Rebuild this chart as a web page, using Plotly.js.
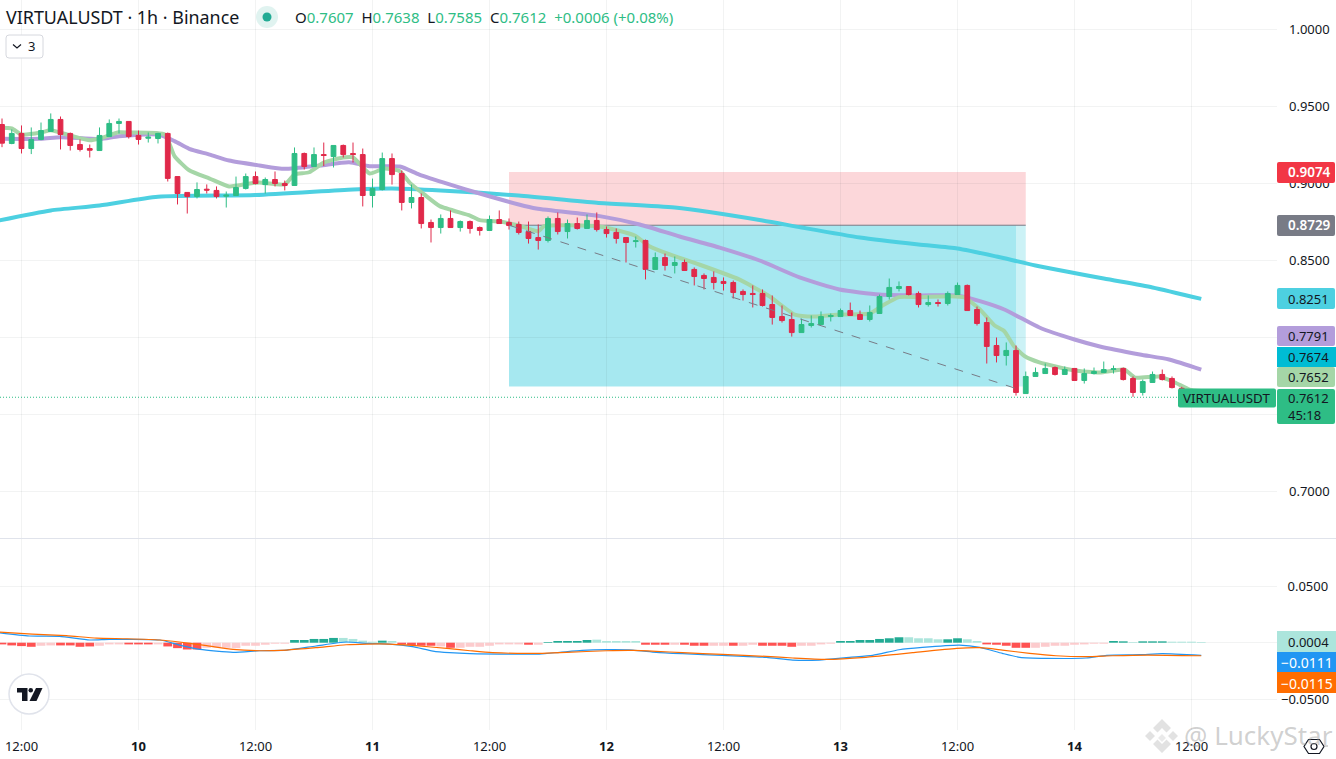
<!DOCTYPE html>
<html>
<head>
<meta charset="utf-8">
<script src="https://cdn.plot.ly/plotly-3.0.1.min.js"></script>
<style>html,body{margin:0;padding:0;background:#fff;overflow:hidden}#chart{width:1336px;height:759px}</style>
</head>
<body>
<div id="chart"></div>
<script>
// Hours relative to the 10th 00:00
const hours = [-14,-13,-12,-11,-10,-9,-8,-7,-6,-5,
 -4,-3,-2,-1,0,1,2,3,4,5,
 6,7,8,9,10,11,12,13,14,15,
 16,17,18,19,20,21,22,23,24,25,
 26,27,28,29,30,31,32,33,34,35,
 36,37,38,39,40,41,42,43,44,45,
 46,47,48,49,50,51,52,53,54,55,
 56,57,58,59,60,61,62,63,64,65,
 66,67,68,69,70,71,72,73,74,75,
 76,77,78,79,80,81,82,83,84,85,
 86,87,88,89,90,91,92,93,94,95,
 96,97,98,99,100,101,102,103,104,105,
 106,107,108,109];
const opens = [.9383,.9260,.9325,.9227,.9286,.9338,.9416,.9325,.9253,.9227,
 .9214,.9305,.9390,.9403,.9312,.9294,.9292,.9325,.9045,.8942,
 .8916,.8963,.8955,.8918,.8922,.8968,.9045,.8993,.9026,.9000,
 .8987,.9195,.9110,.9188,.9175,.9247,.9195,.9188,.8922,.8961,
 .9162,.9065,.8877,.8909,.8747,.8714,.8773,.8714,.8753,.8714,
 .8695,.8766,.8747,.8734,.8688,.8649,.8630,.8773,.8688,.8740,
 .8708,.8760,.8701,.8682,.8649,.8623,.8630,.8442,.8519,.8468,
 .8487,.8442,.8403,.8390,.8364,.8357,.8299,.8286,.8286,.8214,
 .8136,.8117,.8032,.8078,.8084,.8136,.8136,.8175,.8149,.8117,
 .8156,.8266,.8318,.8331,.8286,.8214,.8227,.8221,.8279,.8338,
 .8182,.8097,.7948,.7883,.7916,.7636,.7747,.7766,.7805,.7760,
 .7799,.7721,.7766,.7773,.7792,.7799,.7734,.7643,.7708,.7760,
 .7734,.7670,.7625,.7607];
const highs = [.9422,.9351,.9377,.9364,.9396,.9455,.9435,.9331,.9286,.9253,
 .9364,.9416,.9422,.9403,.9344,.9331,.9329,.9331,.9045,.8942,
 .9007,.8994,.8981,.8948,.9045,.9065,.9078,.9039,.9078,.9019,
 .9234,.9201,.9234,.9266,.9247,.9253,.9266,.9227,.9032,.9201,
 .9195,.9084,.8993,.8935,.8766,.8799,.8825,.8760,.8760,.8721,
 .8792,.8825,.8773,.8753,.8753,.8734,.8786,.8812,.8766,.8779,
 .8799,.8812,.8721,.8708,.8649,.8656,.8636,.8552,.8545,.8526,
 .8506,.8455,.8416,.8429,.8390,.8370,.8312,.8338,.8312,.8273,
 .8208,.8162,.8123,.8143,.8169,.8156,.8188,.8227,.8175,.8208,
 .8279,.8383,.8364,.8331,.8299,.8273,.8247,.8299,.8357,.8344,
 .8201,.8130,.8000,.7968,.7948,.7779,.7805,.7831,.7812,.7812,
 .7799,.7799,.7805,.7844,.7818,.7805,.7747,.7727,.7779,.7792,
 .7747,.7680,.7640,.7638];
const lows = [.9236,.9255,.9195,.9191,.9281,.9336,.9221,.9214,.9208,.9169,
 .9214,.9305,.9325,.9292,.9253,.9266,.9260,.9013,.8864,.8805,
 .8903,.8935,.8903,.8844,.8922,.8961,.8994,.8935,.8981,.8955,
 .8987,.9091,.9108,.9113,.9104,.9169,.9136,.8851,.8844,.8955,
 .8993,.8825,.8838,.8708,.8617,.8675,.8714,.8688,.8675,.8662,
 .8695,.8740,.8701,.8669,.8610,.8571,.8617,.8669,.8643,.8701,
 .8708,.8688,.8649,.8610,.8487,.8584,.8377,.8442,.8435,.8416,
 .8435,.8338,.8312,.8312,.8305,.8253,.8240,.8195,.8201,.8084,
 .8097,.8006,.8032,.8065,.8084,.8104,.8136,.8143,.8117,.8104,
 .8156,.8247,.8299,.8273,.8195,.8201,.8201,.8208,.8279,.8175,
 .8078,.7831,.7838,.7818,.7623,.7636,.7747,.7766,.7753,.7760,
 .7721,.7701,.7760,.7773,.7766,.7721,.7615,.7623,.7708,.7721,
 .7669,.7600,.7590,.7585];
const closes = [.9262,.9325,.9227,.9286,.9344,.9416,.9318,.9247,.9221,.9216,
 .9312,.9390,.9403,.9305,.9286,.9301,.9325,.9033,.8935,.8916,
 .8961,.8957,.8916,.8924,.8974,.9045,.9000,.9026,.9000,.8987,
 .9195,.9110,.9188,.9182,.9247,.9188,.9188,.8922,.8968,.9162,
 .9058,.8877,.8909,.8740,.8714,.8773,.8714,.8753,.8708,.8695,
 .8766,.8740,.8727,.8682,.8643,.8630,.8773,.8688,.8740,.8708,
 .8760,.8701,.8675,.8643,.8617,.8628,.8442,.8519,.8468,.8487,
 .8435,.8396,.8383,.8357,.8351,.8292,.8279,.8279,.8208,.8130,
 .8110,.8032,.8084,.8091,.8136,.8143,.8175,.8143,.8117,.8162,
 .8266,.8325,.8331,.8279,.8214,.8227,.8221,.8286,.8338,.8175,
 .8091,.7942,.7883,.7916,.7643,.7747,.7773,.7799,.7760,.7792,
 .7721,.7766,.7779,.7792,.7797,.7727,.7643,.7714,.7760,.7727,
 .7675,.7625,.7606,.7612];

// Moving averages
const slowHours = [-14.3,-9,-4,2,12,22,26,31,39,47,55,64,68,74,80,84,88,92,99,104,109];
const slowValues = [.8760,.8825,.8857,.8914,.8925,.8961,.8968,.8955,.8922,.8875,.8844,.8760,.8714,.8649,.8604,.8578,.8526,.8468,.8383,.8325,.8251];
const midHours = [-14.3,-10,-8,-4,-2,2,3.7,5.2,7.3,9.3,12.4,15,18.6,21.6,23.7,26.8,28.8,31.9,35,39,40.8,45.2,47.3,51.4,55.5,59.6,63.7,67.8,71.9,76,80,84,86.3,88.8,90.4,92.4,96,98.6,102.7,105.7,109];
const midValues = [.9290,.9290,.9301,.9289,.9307,.9318,.9275,.9225,.9188,.9149,.9117,.9095,.9117,.9138,.9112,.9110,.9058,.8994,.8935,.8864,.8838,.8805,.8788,.8734,.8656,.8584,.8500,.8390,.8312,.8279,.8273,.8273,.8236,.8182,.8130,.8065,.7987,.7942,.7890,.7857,.7791];
const fastHours = [-14.3,-13,-12,-10,-9,-7,-5,-4,-2,-1,2.7,3.7,5.2,7.3,9.3,11.4,12.4,15,16,17.5,19,21,22,23.7,25.2,26.8,27.8,29.3,30.9,34,35,37,39,41,41.6,47.3,50.9,52.4,54.5,57.5,61.6,64.7,67.3,69.3,71.9,75,76.5,78,80,83.2,84.7,86.3,87.8,88.8,89.8,90.9,92.4,96,98.6,101.1,102.2,104.7,106.3,107.8,109];
const fastValues = [.9362,.9357,.9318,.9331,.9346,.9312,.9281,.9292,.9333,.9331,.9318,.9177,.9086,.9032,.8981,.9000,.9006,.8994,.9058,.9073,.9136,.9169,.9169,.9065,.9097,.9080,.9006,.8929,.8853,.8792,.8762,.8753,.8727,.8690,.8723,.8721,.8662,.8593,.8539,.8474,.8377,.8268,.8149,.8136,.8149,.8156,.8214,.8262,.8262,.8268,.8260,.8182,.8078,.8041,.7943,.7878,.7838,.7786,.7773,.7792,.7740,.7747,.7708,.7662,.7652];

// MACD pane
const histValues = [-.0015,-.0024,-.003,-.0036,-.0027,-.0024,-.0024,-.0024,-.0036,-.0033,
 -.0027,-.0015,-.0015,-.0015,-.0015,-.0015,-.0015,-.0033,-.0048,-.006,
 -.006,-.0045,-.0042,-.0045,-.0048,-.0027,-.0027,-.0018,-.0009,-.0009,
 .0024,.0024,.0033,.0033,.0042,.0042,.0033,.0018,.0009,.0018,
 .0015,-.0015,-.0021,-.0027,-.0027,-.0033,-.0045,-.0045,-.0036,-.0036,
 -.0027,-.0015,-.0015,-.0015,-.0018,-.0018,.0006,.0015,.0015,.0015,
 .0024,.0027,.0015,.0015,.0015,.0015,-.0018,-.0018,-.0018,-.0018,
 -.0018,-.0027,-.0027,-.0027,-.0027,-.0027,-.0027,-.0018,-.0027,-.0027,
 -.0027,-.0036,-.0027,-.0027,-.0015,-.0009,.0015,.0015,.0024,.0024,
 .0033,.0039,.0048,.0048,.0039,.0039,.003,.003,.0039,.003,
 .0015,-.0015,-.0018,-.0027,-.0045,-.0045,-.0045,-.0036,-.0027,-.0027,
 -.0018,-.0015,-.0009,-.0009,.0015,.0012,.0006,.0012,.0012,.0012,
 .0009,.0009,.0009,.0006];
const histShades = "SSSSLLSSSS"+"LLLSSSLSSS"+"SLLLLLLLLL"+"GGGGGggggG"+"gSSSSLSLLL"+"LLLLSLGGGG"+"GgggggSSSL"+"SSSLLSLLSS"+"SSLLLLGGGG"+"GGGggggGGg"+"gSSSSSLLLL"+"LLLLGGgGGG"+"gggg";
const macdHours = [-14.3,-11.2,-8.1,-5,-3,2.2,4.2,6.3,9.7,12.4,15.2,18.2,21.3,23.4,25.7,28.1,30.2,31.9,34,37,41.1,43.2,45.5,48,50.7,53.1,55.8,59.9,64.4,67.1,69.8,72.9,75.3,78,80.4,84.2,86.3,88.6,90.4,93.1,97.2,99.3,102.7,105,109];
const macdValues = [.0088,.0059,.0056,.0024,.0029,.0024,-.0021,-.0059,-.0085,-.0071,-.0065,-.0029,.0006,-.0006,-.0012,-.0035,-.0074,-.0088,-.0097,-.0100,-.0100,-.0085,-.0068,-.0062,-.0065,-.0085,-.0097,-.0112,-.0129,-.0153,-.0153,-.0129,-.0112,-.0062,-.0041,-.0021,-.0041,-.0094,-.0129,-.0138,-.0135,-.0112,-.0106,-.0097,-.0111];
const signalHours = [-14.3,-10.9,-7.4,-4.3,-1.2,2.2,4.2,7,9.7,12.4,15.2,18.2,21.3,23.4,25.7,28.1,31.9,34,36.3,41.1,43.9,48,50.7,53.1,55.8,59.9,64.4,67.1,70.5,74.6,78,79.4,83.9,86.3,88.6,91.4,94.1,97.2,99.9,103.4,109];
const signalValues = [.0094,.0076,.0062,.0041,.0035,.0024,.0006,-.0026,-.0059,-.0071,-.0065,-.0044,-.0018,-.0012,-.0012,-.0024,-.0053,-.0071,-.0088,-.0094,-.0085,-.0071,-.0068,-.0076,-.0088,-.0103,-.0121,-.0135,-.0147,-.0129,-.0100,-.0088,-.0050,-.0044,-.0065,-.0094,-.0115,-.0123,-.0115,-.0109,-.0115];

// Axes
const timeTicks = [-12,0,12,24,36,48,60,72,84,96,108];
const timeLabels = ['12:00','<b>10</b>','12:00','<b>11</b>','12:00','<b>12</b>','12:00','<b>13</b>','12:00','<b>14</b>','12:00'];
const priceTicks = [1,.95,.9,.85,.8,.75,.7];
const priceTickLabels = ['1.0000','0.9500','0.9000','0.8500','','','0.7000'];
const macdTicks = [.05,0,-.05];
const macdTickLabels = ['\u20020.0500','','\u22120.0500'];

// Position tool and current price
const entryPrice = .8729, stopPrice = .9074, targetPrice = .7682, toolStart = 38, toolEnd = 91, toolInner = 90;
const arrowEndPrice = .7669, lastPrice = .7612;

// Text
const FONT = '"Noto Sans", "Liberation Sans", sans-serif';
const INK = '#131722', UP = '#2ebd85', DOWN = '#e0294a', GRID = 'rgba(42,46,57,0.06)';

const W = 1277, H = 730;
const X = p => p / W, Y = p => 1 - p / H;
const mapPath = s => s.replace(/(-?[\d.]+),(-?[\d.]+)/g, (m, a, b) => X(+a) + ',' + Y(+b));
const pathShape = (d, o) => Object.assign({type:'path', xref:'paper', yref:'paper', path: mapPath(d), layer:'above', line:{width:0}}, o);
const rectShape = (x0, y0, x1, y1, color, o) => Object.assign({type:'rect', xref:'paper', yref:'paper', x0:X(x0), x1:X(x1), y0:Y(y1), y1:Y(y0), fillcolor:color, line:{width:0}, layer:'above'}, o);
const roundRect = (x0, y0, x1, y1, r) => `M${x0+r},${y0} L${x1-r},${y0} Q${x1},${y0} ${x1},${y0+r} L${x1},${y1-r} Q${x1},${y1} ${x1-r},${y1} L${x0+r},${y1} Q${x0},${y1} ${x0},${y1-r} L${x0},${y0+r} Q${x0},${y0} ${x0+r},${y0} Z`;
const label = (px, py, text, color, size, o) => Object.assign({xref:'paper', yref:'paper', x:X(px), y:Y(py), text, showarrow:false, xanchor:'left', yanchor:'middle', borderpad:0, borderwidth:0, font:{family:FONT, size:size||13, color:color||INK}}, o);

const histColors = {S:'#ff5252', L:'#fccbcd', G:'#22ab94', g:'#ace5dc'};

const traces = [
 {type:'scatter', mode:'lines', x:slowHours, y:slowValues, xaxis:'x', yaxis:'y', line:{color:'#4dd0e1', width:4, shape:'spline', smoothing:.6}},
 {type:'scatter', mode:'lines', x:midHours, y:midValues, xaxis:'x', yaxis:'y', line:{color:'#b39ddb', width:4, shape:'spline', smoothing:.6}},
 {type:'scatter', mode:'lines', x:fastHours, y:fastValues, xaxis:'x', yaxis:'y', line:{color:'#a5d6a7', width:4, shape:'spline', smoothing:.5}},
 {type:'candlestick', x:hours, open:opens, high:highs, low:lows, close:closes, xaxis:'x3', yaxis:'y3', whiskerwidth:0,
  increasing:{line:{color:UP, width:1}, fillcolor:UP}, decreasing:{line:{color:DOWN, width:1}, fillcolor:DOWN}},
 {type:'bar', x:hours, y:histValues, xaxis:'x2', yaxis:'y2', width:.9, marker:{color:histShades.split('').map(k => histColors[k]), line:{width:0}}},
 {type:'scatter', mode:'lines', x:macdHours, y:macdValues, xaxis:'x2', yaxis:'y2', line:{color:'#2196f3', width:1.2, shape:'spline', smoothing:.6}},
 {type:'scatter', mode:'lines', x:signalHours, y:signalValues, xaxis:'x2', yaxis:'y2', line:{color:'#ff6d00', width:1.2, shape:'spline', smoothing:.6}}
];

const xRange = [(0-138.5)/9.75, (1277-138.5)/9.75];
const pHi = 1 + 29.5/1540, pLo = 1 - 508.5/1540;
const tool = (x0, x1, y0, y1, fill) => ({type:'rect', xref:'x', yref:'y', x0, x1, y0, y1, fillcolor:fill, line:{width:0}, layer:'below'});

const shapes = [
 tool(toolStart, toolEnd, entryPrice, stopPrice, 'rgba(242,54,69,0.2)'),
 tool(toolStart, toolInner, targetPrice, entryPrice, 'rgba(0,188,212,0.35)'),
 tool(toolInner, toolEnd, targetPrice, entryPrice, 'rgba(0,188,212,0.2)'),
 {type:'line', xref:'x', yref:'y', x0:toolStart, x1:toolEnd, y0:entryPrice, y1:entryPrice, line:{color:'#787b86', width:1}, layer:'below'},
 {type:'line', xref:'x', yref:'y', x0:toolStart, x1:toolInner, y0:entryPrice, y1:arrowEndPrice, line:{color:'#787b86', width:1, dash:'dash'}, layer:'above'},
 {type:'line', xref:'x', yref:'y', x0:xRange[0], x1:xRange[1], y0:lastPrice, y1:lastPrice, line:{color:UP, width:1, dash:'1px,2px'}, layer:'below'},
 // pane separator
 {type:'line', xref:'paper', yref:'paper', x0:0, x1:1336/W, y0:Y(538.5), y1:Y(538.5), line:{color:'#e0e3eb', width:1}, layer:'above'},
 // price scale tags
 pathShape(roundRect(1277,162,1335,183,2), {fillcolor:'#f23645'}),
 pathShape(roundRect(1277,215,1335,236,2), {fillcolor:'#787b86'}),
 pathShape(roundRect(1277,288,1335,309,2), {fillcolor:'#4dd0e1'}),
 pathShape(roundRect(1277,326,1335,346,2), {fillcolor:'#b39ddb'}),
 rectShape(1277,347,1336,367,'#00bcd4'),
 pathShape(roundRect(1277,367,1335,387,2), {fillcolor:'#a5d6a7'}),
 pathShape(roundRect(1277,389,1335,424,2), {fillcolor:UP}),
 pathShape(roundRect(1178,388.5,1276,407.5,2), {fillcolor:UP}),
 rectShape(1277,631,1336,652,'#ace5dc'),
 rectShape(1277,652,1336,672,'#2196f3'),
 rectShape(1277,672,1336,693,'#ff6d00'),
 // header pieces
 {type:'circle', xref:'paper', yref:'paper', x0:X(256), x1:X(278), y0:Y(28), y1:Y(6), fillcolor:'rgba(34,171,148,0.14)', line:{width:0}, layer:'above'},
 {type:'circle', xref:'paper', yref:'paper', x0:X(262.5), x1:X(271.5), y0:Y(21.5), y1:Y(12.5), fillcolor:'#22ab94', line:{width:0}, layer:'above'},
 pathShape(roundRect(6,35,43,58,3), {fillcolor:'#ffffff', line:{color:'#d6d8de', width:1}}),
 pathShape('M13,44.5 L17,48 L21,44.5', {line:{color:INK, width:1.2}}),
 // logo
 {type:'circle', xref:'paper', yref:'paper', x0:X(9), x1:X(49), y0:Y(714), y1:Y(674), fillcolor:'#ffffff', line:{color:'#e0e3eb', width:1.5}, layer:'above'},
 pathShape('M17,688 L27.5,688 L27.5,701 L22,701 L22,692.5 L17,692.5 Z', {fillcolor:'#131722'}),
 pathShape('M36,688 L42.5,688 L36.5,701 L29.5,701 Z', {fillcolor:'#131722'}),
 {type:'circle', xref:'paper', yref:'paper', x0:X(28.5), x1:X(33), y0:Y(692.5), y1:Y(688), fillcolor:'#131722', line:{width:0}, layer:'above'},
 // watermark mark
 pathShape('M1162,719 L1171,728 L1166.5,732.5 L1162,728 L1157.5,732.5 L1153,728 Z', {fillcolor:'rgba(150,150,150,0.28)'}),
 pathShape('M1150,731 L1155,736 L1150,741 L1145,736 Z', {fillcolor:'rgba(150,150,150,0.28)'}),
 pathShape('M1173,731 L1178,736 L1173,741 L1168,736 Z', {fillcolor:'rgba(150,150,150,0.28)'}),
 pathShape('M1162,734 L1166,738 L1162,742 L1158,738 Z', {fillcolor:'rgba(150,150,150,0.2)'}),
 pathShape('M1153,744 L1157.5,739.5 L1162,744 L1166.5,739.5 L1171,744 L1162,753 Z', {fillcolor:'rgba(150,150,150,0.28)'}),
 // settings hexagon
 pathShape('M1308.5,739.5 L1319.5,739.5 L1324,746.5 L1319.5,753.5 L1308.5,753.5 L1304,746.5 Z', {line:{color:INK, width:1.2}}),
 {type:'circle', xref:'paper', yref:'paper', x0:X(1311), x1:X(1317), y0:Y(749.5), y1:Y(743.5), line:{color:INK, width:1.2}, layer:'above'},
 {type:'line', xref:'paper', yref:'paper', x0:X(1324), x1:X(1328), y0:Y(746), y1:Y(746), line:{color:'#aaaaaa', width:1}, layer:'above'}
];

const O = c => `<span style="color:${INK}">${c}</span>`;
const GAP = '\u00a0\u00a0';
const annotations = [
 label(6, 17, 'VIRTUALUSDT · 1h · Binance', INK, 17.9),
 label(295, 17, `${O('O')}0.7607${GAP}${O('H')}0.7638${GAP}${O('L')}0.7585${GAP}${O('C')}0.7612${GAP}+0.0006 (+0.08%)`, UP, 15),
 label(28, 46.5, '3', INK, 13),
 label(1184, 735, '@ LuckyStar', 'rgba(150,150,150,0.45)', 26),
 label(1288, 172.5, '0.9074', '#ffffff', 13, {font:{family:FONT,size:13.5,color:'#fff',weight:600}}),
 label(1288, 225.5, '0.8729', '#ffffff', 13, {font:{family:FONT,size:13.5,color:'#fff',weight:600}}),
 label(1288, 298.5, '0.8251'),
 label(1288, 336, '0.7791'),
 label(1288, 357, '0.7674'),
 label(1288, 377, '0.7652'),
 label(1288, 398, '0.7612'),
 label(1288, 415, '45:18'),
 label(1183, 398, 'VIRTUALUSDT', INK, 13.3),
 label(1288, 642, '0.0004'),
 label(1281, 662, '\u22120.0111', '#ffffff', 14),
 label(1281, 683, '\u22120.0115', '#ffffff', 14)
];

const baseX = {range:xRange, tickmode:'array', tickvals:timeTicks, showgrid:true, gridcolor:GRID, gridwidth:1, zeroline:false, showline:false, ticks:'', fixedrange:true};
const layout = {
 width:1336, height:759, margin:{l:0, r:59, t:0, b:29, pad:0}, paper_bgcolor:'#fff', plot_bgcolor:'#fff',
 showlegend:false, hovermode:false, bargap:.08,
 font:{family:FONT, size:13, color:INK},
 xaxis:Object.assign({}, baseX, {domain:[0,1], anchor:'y', showticklabels:false, rangeslider:{visible:false}}),
 xaxis2:Object.assign({}, baseX, {domain:[0,1], anchor:'y2', ticktext:timeLabels, showticklabels:true, ticklabelstandoff:7, tickfont:{family:FONT, size:13, color:INK}}),
 xaxis3:{overlaying:'x', matches:'x', visible:false, rangeslider:{visible:false}},
 yaxis:{domain:[1-538/730,1], range:[pLo,pHi], side:'right', anchor:'x', tickmode:'array', tickvals:priceTicks, ticktext:priceTickLabels, showgrid:true, gridcolor:GRID, zeroline:false, ticks:'', ticklabelstandoff:11, tickfont:{family:FONT, size:13, color:INK}, fixedrange:true},
 yaxis2:{domain:[0,1-539/730], range:[-(730-642.7)/1133,(642.7-539)/1133], side:'right', anchor:'x2', tickmode:'array', tickvals:macdTicks, ticktext:macdTickLabels, showgrid:true, gridcolor:GRID, zeroline:false, ticks:'', ticklabelstandoff:3, tickfont:{family:FONT, size:13, color:INK}, fixedrange:true},
 yaxis3:{overlaying:'y', matches:'y', visible:false, side:'right'},
 shapes, annotations
};
Plotly.newPlot('chart', traces, layout, {displayModeBar:false, staticPlot:true});
</script>
</body>
</html>
